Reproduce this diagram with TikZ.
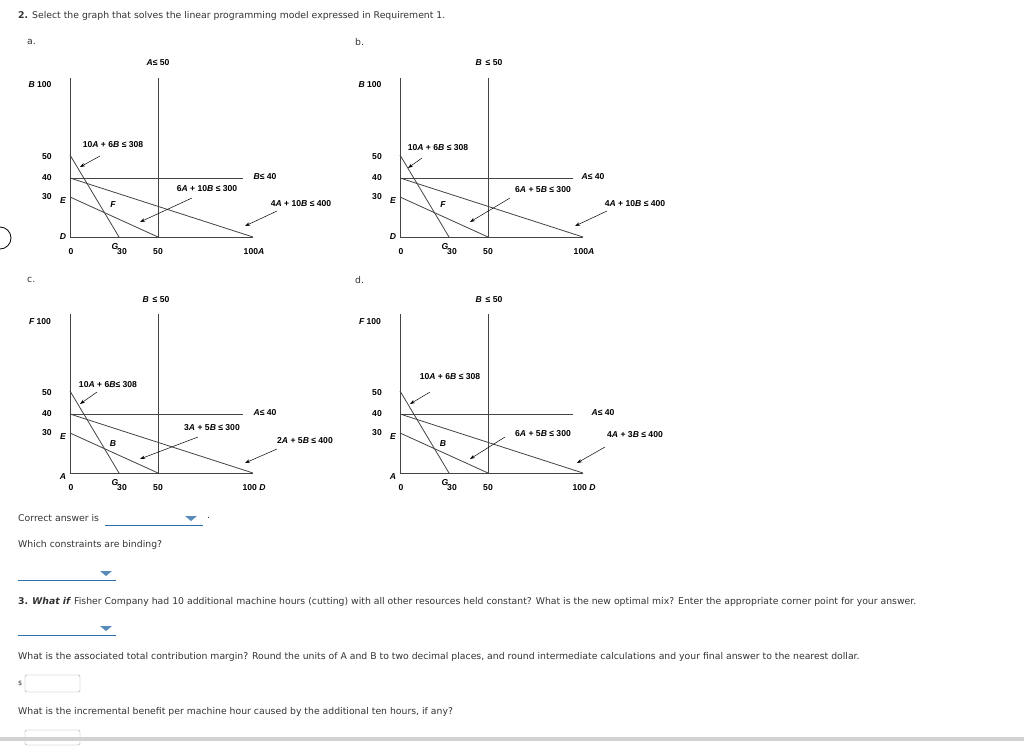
\documentclass[tikz,border=0pt]{standalone}
\usepackage{fontspec}
\setmainfont{DejaVu Sans}
\newfontfamily\gf{Liberation Sans}
\usetikzlibrary{arrows.meta}
\definecolor{txt}{HTML}{333333}
\definecolor{dd}{HTML}{2F6EAA}
\definecolor{ln}{HTML}{444444}
\begin{document}
\begin{tikzpicture}[x=1pt,y=-1pt,
  body/.style={anchor=west,inner sep=0pt,text=txt,font=\fontsize{9.3}{10}\selectfont},
  gl/.style={inner sep=0pt,text=black,font=\gf\bfseries\fontsize{8.6}{9}\selectfont},
  gline/.style={draw=ln,line width=0.8pt},
  arr/.style={draw=black,line width=0.5pt,-{Stealth[length=5pt,width=3.5pt]}},
  ddl/.style={draw=dd,line width=1pt},
  tri/.style={fill=dd!80!white}]
\useasboundingbox (0,0) rectangle (1024,751);
\fill[white] (0,0) rectangle (1024,751);
\newcommand\axes[2]{%
 \begin{scope}[shift={(#1,#2)}]
  \draw[gline] (70,78) -- (70,237) -- (253,237);
  \draw[gline] (158,78) -- (158,237);
  \draw[gline] (70,178) -- (243,178);
  \draw[gline] (70,155) -- (119,237);
  \draw[gline] (70,178) -- (253,237);
  \draw[gline] (70,197) -- (158,237);
  \node[gl] at (47,157) {50};
  \node[gl] at (47,178) {40};
  \node[gl] at (47,197) {30};
  \node[gl] at (63,201) {\itshape E};
  \node[gl] at (71,252) {0};
  \node[gl] at (115,247) {\itshape G};
  \node[gl] at (122,252) {30};
  \node[gl] at (158,252) {50};
 \end{scope}}
% header
\node[body] (h) at (18,16) {\textbf{2.} Select the graph that solves the linear programming model expressed in Requirement 1.};
\node[body] (la) at (27,42) {a.};
\node[body] (lb) at (355,42) {b.};
\node[body] (lc) at (27,280) {c.};
\node[body] (ld) at (355,280) {d.};
\draw[black,line width=0.8pt] (0,238) circle (11);
% panel a
\axes{0}{0}
\node[gl] (a1) at (158,63) {\itshape A\upshape ≤ 50};
\node[gl] (a2) at (40,85) {\itshape B\upshape{} 100};
\node[gl] (a3) at (63,237) {\itshape D};
\node[gl] (a4) at (113,205) {\itshape F};
\node[gl] (a5) at (254,252) {100\itshape A};
\node[gl] (a6) at (113,145) {10\itshape A\upshape{} + 6\itshape B\upshape{} ≤ 308};
\node[gl] (a7) at (265,177) {\itshape B\upshape ≤ 40};
\node[gl] (a8) at (207,189) {6\itshape A\upshape{} + 10\itshape B\upshape{} ≤ 300};
\node[gl] (a9) at (301,204) {4\itshape A\upshape{} + 10\itshape B\upshape{} ≤ 400};
\coordinate (a6s) at (100,156); \coordinate (a6e) at (80,167);
\coordinate (a8s) at (192,198); \coordinate (a8e) at (140,222);
\coordinate (a9s) at (277,211); \coordinate (a9e) at (245,226);
\draw[arr] (a6s) -- (a6e); \draw[arr] (a8s) -- (a8e); \draw[arr] (a9s) -- (a9e);
% panel b
\axes{330}{0}
\node[gl] (b1) at (489,63) {\itshape B\upshape{}\, ≤ 50};
\node[gl] (b2) at (370,85) {\itshape B\upshape{} 100};
\node[gl] (b3) at (393,237) {\itshape D};
\node[gl] (b4) at (443,205) {\itshape F};
\node[gl] (b5) at (584,252) {100\itshape A};
\node[gl] (b6) at (438,148) {10\itshape A\upshape{} + 6\itshape B\upshape{} ≤ 308};
\node[gl] (b7) at (593,177) {\itshape A\upshape ≤ 40};
\node[gl] (b8) at (543,190) {6\itshape A\upshape{} + 5\itshape B\upshape{} ≤ 300};
\node[gl] (b9) at (635,204) {4\itshape A\upshape{} + 10\itshape B\upshape{} ≤ 400};
\coordinate (b6s) at (422,158); \coordinate (b6e) at (408,168);
\coordinate (b8s) at (510,198); \coordinate (b8e) at (470,222);
\coordinate (b9s) at (607,211); \coordinate (b9e) at (575,226);
\draw[arr] (b6s) -- (b6e); \draw[arr] (b8s) -- (b8e); \draw[arr] (b9s) -- (b9e);
% panel c
\axes{0}{236}
\node[gl] (c1) at (156,300) {\itshape B\upshape{}\, ≤ 50};
\node[gl] (c2) at (40,322) {\itshape F\upshape{} 100};
\node[gl] (c3) at (63,477) {\itshape A};
\node[gl] (c4) at (113,444) {\itshape B};
\node[gl] (c5) at (254,488) {100 \itshape D};
\node[gl] (c6) at (108,385) {10\itshape A\upshape{} + 6\itshape B\upshape{}≤ 308};
\node[gl] (c7) at (265,413) {\itshape A\upshape ≤ 40};
\node[gl] (c8) at (212,428) {3\itshape A\upshape{} + 5\itshape B\upshape{} ≤ 300};
\node[gl] (c9) at (305,441) {2\itshape A\upshape{} + 5\itshape B\upshape{} ≤ 400};
\coordinate (c6s) at (97,392); \coordinate (c6e) at (80,404);
\coordinate (c8s) at (198,437); \coordinate (c8e) at (140,459);
\coordinate (c9s) at (277,449); \coordinate (c9e) at (245,463);
\draw[arr] (c6s) -- (c6e); \draw[arr] (c8s) -- (c8e); \draw[arr] (c9s) -- (c9e);
% panel d
\axes{330}{236}
\node[gl] (d1) at (489,300) {\itshape B\upshape{}\, ≤ 50};
\node[gl] (d2) at (370,322) {\itshape F\upshape{} 100};
\node[gl] (d3) at (393,477) {\itshape A};
\node[gl] (d4) at (443,444) {\itshape B};
\node[gl] (d5) at (584,488) {100 \itshape D};
\node[gl] (d6) at (450,377) {10\itshape A\upshape{} + 6\itshape B\upshape{} ≤ 308};
\node[gl] (d7) at (603,413) {\itshape A\upshape ≤ 40};
\node[gl] (d8) at (543,434) {6\itshape A\upshape{} + 5\itshape B\upshape{} ≤ 300};
\node[gl] (d9) at (635,435) {4\itshape A\upshape{} + 3\itshape B\upshape{} ≤ 400};
\coordinate (d6s) at (430,392); \coordinate (d6e) at (410,404);
\coordinate (d8s) at (505,437); \coordinate (d8e) at (470,459);
\coordinate (d9s) at (605,447); \coordinate (d9e) at (577,463);
\draw[arr] (d6s) -- (d6e); \draw[arr] (d8s) -- (d8e); \draw[arr] (d9s) -- (d9e);
% bottom questions
\node[body] (q1) at (18,518) {Correct answer is};
\coordinate (q1a) at (105,525); \coordinate (q1b) at (203,525);
\draw[ddl] (q1a) -- (q1b);
\fill[tri] (185,516) -- (197,516) -- (191,521) -- cycle;
\node[body] (q1d) at (207,518) {.};
\node[body] (q2) at (18,545) {Which constraints are binding?};
\coordinate (q2a) at (18,580); \coordinate (q2b) at (116,580);
\draw[ddl] (q2a) -- (q2b);
\fill[tri] (100,571) -- (112,571) -- (106,576) -- cycle;
\node[body] (q3) at (18,602) {\textbf{3.} \textbf{\itshape What if} Fisher Company had 10 additional machine hours (cutting) with all other resources held constant? What is the new optimal mix? Enter the appropriate corner point for your answer.};
\coordinate (q3a) at (18,635); \coordinate (q3b) at (116,635);
\draw[ddl] (q3a) -- (q3b);
\fill[tri] (100,626) -- (112,626) -- (106,631) -- cycle;
\node[body] (q4) at (18,657) {What is the associated total contribution margin? Round the units of A and B to two decimal places, and round intermediate calculations and your final answer to the nearest dollar.};
\node[body,font=\fontsize{6.5}{7}\selectfont] (q4d) at (18,684) {\$};
\draw[gray!70,rounded corners=1.5pt] (25,675) rectangle (80,692);
\node[body] (q5) at (18,712) {What is the incremental benefit per machine hour caused by the additional ten hours, if any?};
\draw[gray!70,rounded corners=1.5pt] (25,730) rectangle (80,745);
\fill[gray!35] (0,737) rectangle (1024,741);
\end{tikzpicture}
\end{document}
